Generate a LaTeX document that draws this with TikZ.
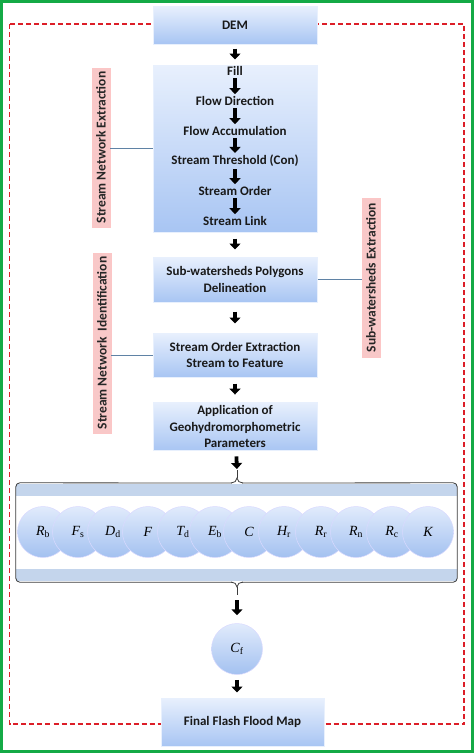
\documentclass[tikz,border=0pt]{standalone}
\usepackage{fontspec}
\setmainfont{Carlito}
\newfontfamily\tmsfont{Liberation Serif}
\usetikzlibrary{arrows.meta,calc}
\definecolor{gborder}{RGB}{20,170,70}
\definecolor{rdash}{RGB}{220,30,40}
\definecolor{btop}{RGB}{232,240,253}
\definecolor{bbot}{RGB}{168,197,243}
\definecolor{pinkfill}{RGB}{248,200,200}
\definecolor{linkcol}{RGB}{95,130,165}
\definecolor{bandcol}{RGB}{196,213,236}
\definecolor{frcol}{RGB}{60,60,60}
\definecolor{ctop}{RGB}{225,235,252}
\definecolor{cbot}{RGB}{163,193,240}
\tikzset{
  procbox/.style={rectangle, top color=btop, bottom color=bbot, draw=btop, line width=1pt,
    minimum width=164pt, align=center, font=\bfseries\fontsize{13}{16.5}\selectfont, text=black!90},
  steptext/.style={inner sep=0pt, font=\bfseries\fontsize{13}{15}\selectfont, text=black!90},
  blk/.style={line width=3.8pt, -{Triangle[length=6pt,width=11pt]}, black},
  sidelabel/.style={rectangle, rotate=90, fill=pinkfill, draw=pinkfill!80!red!60, line width=0.4pt,
    minimum height=18pt, inner sep=0.5pt, font=\bfseries\fontsize{13.5}{14}\selectfont, text=black!85},
  link/.style={linkcol, line width=0.7pt},
  param/.style={circle, minimum size=51pt, inner sep=0pt, top color=ctop, bottom color=cbot,
    draw=white!85!blue, line width=0.5pt, font=\tmsfont\itshape\fontsize{14}{14}\selectfont},
}
\newcommand{\sbs}[1]{\textsubscript{\upshape #1}}
\begin{document}
\begin{tikzpicture}[x=1pt,y=-1pt]
\useasboundingbox (0,0) rectangle (474,753);
\fill[white] (0,0) rectangle (474,753);
% outer green frame and red dashed frame
\draw[gborder, line width=3pt] (1.5,1.5) rectangle (472.5,751.5);
\draw[rdash, line width=1.5pt, dash pattern=on 5pt off 3pt] (9.5,24) rectangle (464,724);

% main boxes
\node[procbox, minimum height=38pt] (dem) at (235,25) {DEM};
\node[procbox, minimum height=167pt] (big) at (235,148.5) {};
\node[steptext] (s1) at (235,71) {Fill};
\node[steptext] (s2) at (235,101) {Flow Direction};
\node[steptext] (s3) at (235,131) {Flow Accumulation};
\node[steptext] (s4) at (235,161) {Stream Threshold (Con)};
\node[steptext] (s5) at (235,191) {Stream Order};
\node[steptext] (s6) at (235,221) {Stream Link};
\node[procbox, minimum height=45pt] (sub) at (235,279.5) {Sub-watersheds Polygons\\Delineation};
\node[procbox, minimum height=44pt] (soe) at (235,355) {Stream Order Extraction\\Stream to Feature};
\node[procbox, minimum height=47pt] (app) at (235,426.5) {Application of\\Geohydromorphometric\\Parameters};

% arrows
\draw[blk, shorten <=4pt, shorten >=5pt] (dem) -- (big);
\foreach \a/\b in {s1/s2,s2/s3,s3/s4,s4/s5,s5/s6}
  \draw[blk, shorten <=2pt, shorten >=2pt] (\a) -- (\b);
\draw[blk, shorten <=6pt, shorten >=7pt] (big) -- (sub);
\draw[blk, shorten <=9pt, shorten >=9pt] (sub) -- (soe);
\draw[blk, shorten <=6pt, shorten >=7pt] (soe) -- (app);

% side labels
\node[sidelabel, minimum width=159pt] (sne) at (101,147.5) {Stream Network Extraction};
\node[sidelabel, minimum width=180pt] (sni) at (102,343) {Stream Network\ \ Identification};
\node[sidelabel, minimum width=159pt] (swe) at (371,277.5) {Sub-watersheds Extraction};
\draw[link] (sne.south |- big.west) -- (big.west);
\draw[link] (sni.south |- soe.west) -- (soe.west);
\draw[link] (sub.east) -- (swe.north |- sub.east);

% parameter frame
\node[rectangle, minimum width=441pt, minimum height=99pt, inner sep=0pt] (pfr) at (236.5,532.5) {};
\fill[bandcol] ($(pfr.north west)+(0.5,1)$) rectangle ($(pfr.north east)+(-0.5,13)$);
\fill[bandcol] ($(pfr.south west)+(0.5,-13)$) rectangle ($(pfr.south east)+(-0.5,-1)$);
\coordinate (ptop) at (237,470);
\coordinate (pbot) at (237,595);
\draw[frcol, line width=0.8pt, rounded corners=4pt]
  (237,483) -- (pfr.north east) -- (pfr.south east) -- (pfr.south west) -- (pfr.north west) -- cycle;
\draw[white, line width=1.4pt] (232,483) -- (242,483);
\draw[frcol, line width=0.8pt] (231,483) to[out=0,in=-90] (237,478) to[out=-90,in=180] (243,483);
\draw[frcol, line width=0.8pt] (237,478) -- (ptop);
\draw[white, line width=1.4pt] (232,582) -- (242,582);
\draw[frcol, line width=0.8pt] (231,582) to[out=0,in=90] (237,587) to[out=90,in=180] (243,582);
\draw[frcol, line width=0.8pt] (237,587) -- (pbot);
\draw[blk, shorten <=5pt, shorten >=1pt] (app) -- (ptop);

% parameter circles
\node[param] (p1) at (43,532) {R\sbs{b}};
\node[param] (p2) at (78,532) {F\sbs{s}};
\node[param] (p3) at (113,532) {D\sbs{d}};
\node[param] (p4) at (148,532) {F};
\node[param] (p5) at (183,532) {T\sbs{d}};
\node[param] (p6) at (215,532) {E\sbs{b}};
\node[param] (p7) at (249,532) {C};
\node[param] (p8) at (284,532) {H\sbs{r}};
\node[param] (p9) at (321,532) {R\sbs{r}};
\node[param] (p10) at (356,532) {R\sbs{n}};
\node[param] (p11) at (392,532) {R\sbs{c}};
\node[param] (p12) at (428,532) {K};

% Cf and final
\node[param] (cf) at (237,649) {C\sbs{f}};
\node[procbox, minimum width=163pt, minimum height=48pt] (final) at (242.5,722) {Final Flash Flood Map};
\draw[blk, shorten <=5pt, shorten >=8pt] (pbot) -- (cf);
\draw[blk, shorten <=5pt, shorten >=5pt] (cf) -- (cf |- final.north);
\end{tikzpicture}
\end{document}
